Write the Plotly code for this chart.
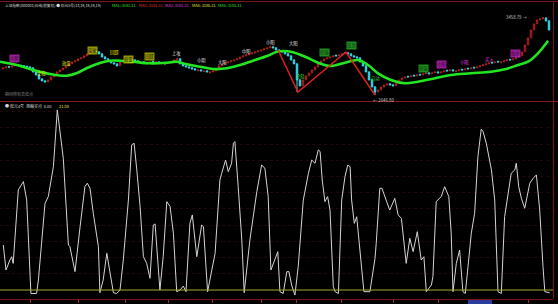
import plotly.graph_objects as go

W, H = 558, 304

# ---------------- price panel data (bar index, price) ----------------
bars = list(range(1, 184))
op = [2920, 2930, 2945, 2938, 2950, 2962, 2958, 2952, 2947, 2940,
      2930, 2888, 2858, 2815, 2795, 2784, 2805, 2836, 2857, 2888,
      2909, 2930, 2950, 2972, 2992, 3003, 3024, 3034, 3055, 3076,
      3097, 3110, 3097, 3076, 3044, 3024, 3003, 2982, 2972, 2951,
      2992, 3010, 3003, 3020, 3013, 3003, 2982, 2992, 2972, 2982,
      2998, 2982, 2992, 2972, 2982, 2972, 2982, 2992, 3013, 3024,
      2972, 2951, 2940, 2930, 2920, 2899, 2909, 2890, 2899, 2878,
      2888, 2899, 2920, 2951, 2972, 2982, 2992, 3003, 3013, 3024,
      3044, 3055, 3065, 3076, 3086, 3097, 3107, 3117, 3128, 3138,
      3149, 3138, 3117, 3107, 3097, 3076, 3055, 3013, 2972, 2805,
      2743, 2805, 2847, 2878, 2909, 2940, 2972, 3003, 3024, 3034,
      3044, 3062, 3055, 3065, 3076, 3086, 3076, 3055, 3044, 3034,
      2992, 2951, 2888, 2805, 2732, 2680, 2701, 2732, 2753, 2763,
      2753, 2743, 2774, 2805, 2826, 2842, 2836, 2853, 2847, 2863,
      2857, 2868, 2878, 2868, 2878, 2888, 2878, 2888, 2905, 2899,
      2909, 2890, 2899, 2915, 2909, 2926, 2920, 2936, 2930, 2940,
      2951, 2961, 2972, 2988, 2982, 2998, 2982, 2992, 3003, 3019,
      3013, 3024, 3044, 3055, 3097, 3169, 3242, 3325, 3388, 3430,
      3440, 3450, 3419]
cl = [2928, 2938, 2936, 2949, 2959, 2957, 2950, 2946, 2940, 2929,
      2886, 2855, 2813, 2793, 2782, 2803, 2834, 2855, 2886, 2907,
      2928, 2949, 2970, 2990, 3001, 3022, 3032, 3053, 3074, 3095,
      3105, 3095, 3074, 3042, 3022, 3001, 2980, 2970, 2949, 2990,
      3001, 3001, 3011, 3011, 3001, 2990, 2990, 2980, 2980, 2990,
      2990, 2990, 2980, 2980, 2970, 2980, 2990, 3011, 3022, 2970,
      2949, 2938, 2928, 2918, 2907, 2907, 2897, 2897, 2886, 2886,
      2897, 2918, 2949, 2970, 2980, 2990, 3001, 3011, 3022, 3042,
      3053, 3063, 3074, 3084, 3095, 3105, 3115, 3126, 3136, 3147,
      3136, 3115, 3105, 3095, 3074, 3053, 3011, 2970, 2803, 2741,
      2803, 2845, 2876, 2907, 2938, 2970, 3001, 3022, 3032, 3042,
      3053, 3053, 3063, 3074, 3084, 3074, 3053, 3042, 3032, 2990,
      2949, 2886, 2803, 2730, 2678, 2699, 2730, 2751, 2761, 2751,
      2741, 2772, 2803, 2824, 2834, 2834, 2845, 2845, 2855, 2855,
      2866, 2876, 2866, 2876, 2886, 2876, 2886, 2897, 2897, 2907,
      2897, 2897, 2907, 2907, 2918, 2918, 2928, 2928, 2938, 2949,
      2959, 2970, 2980, 2980, 2990, 2990, 2990, 3001, 3011, 3011,
      3022, 3042, 3053, 3095, 3167, 3240, 3323, 3386, 3428, 3438,
      3448, 3417, 3323]
wick_low = {99: 2678.1, 125: 2646.8}
wick_high = {181: 3458.79}

ma_bar = [0, 5.6, 11, 16.7, 22.3, 25.7, 29, 33.3, 36.7, 40, 44.3, 50, 55.7, 59,
          62.3, 66.7, 71, 75.7, 80, 84.3, 89, 92.7, 97, 101.7, 106, 110.3, 115,
          119.3, 122.7, 126, 130.3, 135, 139.3, 145, 150.3, 157, 163.7, 168.3,
          172.7, 176, 179.3, 182.7]
ma_val = [2993.5, 2959.2, 2907.1, 2865.5, 2847.8, 2875.9, 2927.9, 2980.0, 3003.9,
          3003.9, 2993.5, 2976.8, 2983.1, 2993.5, 2966.4, 2941.5, 2917.5, 2924.8,
          2959.2, 3003.9, 3052.9, 3100.0, 3097.6, 3045.6, 2983.1, 2948.7, 2983.1,
          3011.2, 2959.2, 2872.7, 2803.0, 2768.6, 2785.2, 2820.7, 2855.0, 2872.7,
          2889.4, 2914.4, 2959.2, 2993.5, 3080.9, 3212.1]

zz_bar = [92.7, 99.3, 115.3, 125.0]
zz_price = [3115.3, 2678.1, 3094.5, 2646.8]

lab_bar = [4.7, 13.7, 22.0, 30.7, 38.3, 42.7, 49.7, 58.7, 67.0, 74.0, 82.3, 90.3,
           97.7, 100.0, 108.0, 117.0, 125.3, 141.3, 147.0, 154.7, 163.3, 171.7]
lab_price = [3021.6, 2865.5, 2969.6, 3104.9, 3084.1, 3011.2, 3042.4, 3073.7, 3000.8,
             2980.0, 3094.5, 3188.2, 3177.8, 2834.2, 3084.1, 3157.0, 2813.4, 2917.5,
             2959.2, 2980.0, 3011.2, 3073.7]
lab_text = ["小阴", "企稳", "放量", "突破", "回踩", "缩量", "回踩", "上攻", "小阴", "大阳", "中阳",
            "小阳", "大阳", "企稳", "转强", "见顶", "启动", "转强", "小阳", "小阳", "买入", "加仓"]
lab_kind = ["M", "y", "y", "Y", "y", "Y", "Y", "w", "w", "w", "w", "w", "w", "g", "G", "G",
            "g", "G", "M", "m", "m", "M"]

# ---------------- oscillator panel data ----------------
osc_bar = [1.1, 2.0, 3.3, 3.9, 4.4, 6.1, 7.8, 8.9, 9.4, 10.3,
           12.2, 12.8, 15.0, 16.1, 17.8, 19.1, 21.1, 22.8, 23.3, 25.0,
           26.7, 28.3, 29.1, 30.0, 31.1, 32.8, 33.3, 34.4, 35.6, 36.7,
           37.8, 38.9, 40.0, 41.1, 42.8, 43.9, 44.7, 45.6, 46.7, 47.8,
           48.9, 50.0, 51.1, 51.7, 52.2, 53.3, 54.4, 55.6, 56.7, 57.8,
           58.9, 60.0, 61.1, 62.0, 63.3,
           64.1, 65.6, 67.2, 67.8, 69.2, 71.7, 73.3, 73.9, 75.2, 76.1,
           77.2, 77.8, 78.3, 79.4, 80.6, 81.4, 83.3, 85.6, 87.2, 88.3,
           89.4, 90.3, 91.1, 92.6, 93.3, 94.4, 95.6, 96.3, 97.2, 98.3,
           99.4, 101.1, 102.8, 103.9, 105.0, 106.1, 106.7, 107.4, 108.3, 109.2,
           110.0, 111.1, 111.7, 112.8, 113.9, 115.0, 115.9, 116.7, 117.2, 118.1,
           118.9, 119.4, 120.6, 121.3, 123.3, 125.0,
           125.4, 126.6, 127.3, 128.8, 129.9, 131.6, 132.7, 133.8, 135.4, 136.6,
           137.7, 139.1, 140.4, 141.3, 142.1, 143.8, 144.3, 145.4, 147.1, 148.2,
           149.6, 150.4, 151.0, 152.1, 153.2, 154.3, 155.1, 156.0, 157.1, 158.2,
           159.3, 160.4, 161.0, 162.1, 163.8, 164.9, 166.0, 167.1, 168.2, 170.4,
           171.6, 172.1, 172.9, 173.8, 174.9, 176.6, 177.7, 178.8, 179.9, 181.0,
           181.6, 183.2]
osc_val = [25.0, 11.1, 16.7, 18.5, 14.8, 55.6, 60.2, 50.0, 31.5, -1.9,
           -1.9, 5.6, 48.1, 51.9, 68.5, 100.0, 73.1, 25.0, 24.1, 10.2,
           35.2, 57.4, 59.3, 56.5, 42.6, 24.1, -1.5, 5.6, 20.4, 8.3,
           -1.5, -1.9, 0.0, 16.7, 50.0, 80.6, 81.5, 66.7, 46.3, 18.5,
           14.8, 6.5, 36.1, 36.7, 24.1, 0.0, 18.5, 49.1, 46.3, 31.5,
           -0.9, 0.0, 2.2, -0.9, 37.0,
           41.7, 18.5, 36.1, 35.2, -0.9, 20.4, 61.1, 64.8, 72.2, 65.7,
           70.4, 81.5, 82.4, 57.4, 27.8, -1.5, 27.8, 54.6, 69.4, 67.6,
           51.9, 11.1, 14.8, 21.3, -0.9, -1.9, 10.2, 10.2, 2.8, -2.8,
           13.0, 50.0, 64.8, 72.2, 70.4, 77.8, 76.9, 61.1, 49.1, 51.9,
           44.4, 1.9, -0.9, -1.9, 50.0, 63.0, 69.4, 68.5, 50.0, 37.0,
           40.7, 32.4, 9.3, -0.9, -0.9, 17.6,
           25.9, 56.5, 56.5, 50.0, 44.4, 50.9, 41.7, 39.8, 14.8, 28.7,
           21.3, 32.4, 16.7, 18.5, -0.9, 2.8, 7.4, 49.1, 51.9, 57.4,
           51.9, 31.5, -0.9, 14.8, 22.2, -0.9, -1.9, 13.0, 31.5, 42.6,
           74.1, 89.3, 88.0, 81.5, 66.7, 50.0, -0.9, -1.9, 40.7, 64.8,
           66.7, 70.4, 57.4, 50.9, 45.4, 59.3, 62.0, 63.9, 44.4, 13.0,
           -0.9, -1.5]
osc_ref = 0.0
axis_tick_bars = [10, 26.3, 41.7, 56, 70.7, 87, 98.7, 113.7, 131, 146.3, 176.3]
grid_vals = [9, 18, 27, 36, 45, 54, 63, 72, 81, 90, 99]

ma_values_text = ["3181.31", "3181.31", "3181.31", "3185.31", "3181.31"]
hi_label = "3458.79"
lo_label = "2646.80"

# ---------------- build ----------------
hi = [max(o, c) for o, c in zip(op, cl)]
lo = [min(o, c) for o, c in zip(op, cl)]
for b, v in wick_low.items():
    lo[b - 1] = v
for b, v in wick_high.items():
    hi[b - 1] = v

FONT = "Noto Sans CJK SC, Noto Sans, sans-serif"
XR = [0, 184.33]
XD = [0, 553 / W]


def py(ypx):
    return (H - ypx) / H


def px(xpx):
    return xpx / W


fig = go.Figure()
fig.add_trace(go.Candlestick(
    x=bars, open=op, high=hi, low=lo, close=cl, xaxis="x", yaxis="y",
    increasing=dict(line=dict(color="#b82424", width=1), fillcolor="rgba(0,0,0,0)"),
    decreasing=dict(line=dict(color="#30d8e8", width=1), fillcolor="#30d8e8"),
    whiskerwidth=0, showlegend=False, hoverinfo="skip"))
fig.add_trace(go.Scatter(x=ma_bar, y=ma_val, mode="lines", xaxis="x", yaxis="y",
                         line=dict(color="#22e622", width=2.6, shape="spline"),
                         showlegend=False, hoverinfo="skip"))
fig.add_trace(go.Scatter(x=zz_bar, y=zz_price, mode="lines", xaxis="x", yaxis="y",
                         line=dict(color="#e02020", width=1.5),
                         showlegend=False, hoverinfo="skip"))
fig.add_trace(go.Scatter(x=osc_bar, y=osc_val, mode="lines", xaxis="x2", yaxis="y2",
                         line=dict(color="#d4d4d4", width=1),
                         showlegend=False, hoverinfo="skip"))

kind_style = {
    "y": dict(color="#e8e800", bg=None),
    "Y": dict(color="#202000", bg="rgba(200,200,0,0.75)"),
    "w": dict(color="#e0e0e0", bg=None),
    "g": dict(color="#30d830", bg=None),
    "G": dict(color="#103010", bg="rgba(40,190,40,0.75)"),
    "m": dict(color="#e040e0", bg=None),
    "M": dict(color="#300030", bg="rgba(200,40,200,0.75)"),
}
ann = []
for b, p, t, k in zip(lab_bar, lab_price, lab_text, lab_kind):
    st = kind_style[k]
    a = dict(x=b, y=p, xref="x", yref="y", text=t, showarrow=False,
             font=dict(family=FONT, size=4.3, color=st["color"]), borderpad=0)
    if st["bg"]:
        a["bgcolor"] = st["bg"]
    ann.append(a)

ann.append(dict(x=176.3, y=wick_high[181], xref="x", yref="y", text=hi_label + " →",
                showarrow=False, xanchor="right", yanchor="middle",
                font=dict(family=FONT, size=4.3, color="#c8c8c8")))
ann.append(dict(x=123.7, y=wick_low[125], xref="x", yref="y", text="← " + lo_label,
                showarrow=False, xanchor="left", yanchor="top",
                font=dict(family=FONT, size=4.3, color="#c8c8c8")))

# header texts
ann.append(dict(x=px(3), y=py(5.5), xref="paper", yref="paper", xanchor="left", yanchor="middle",
                text="上证指数(000001)日线(前复权) ● 松元5号(13,19,19,19,19)", showarrow=False,
                font=dict(family=FONT, size=3.7, color="#d8d8d8")))
ma_cols = ["#30e030", "#e83030", "#e040e0", "#e8e830", "#30e030"]
ma_x = [110, 137, 163, 190, 216]
for i, (v, c, xx) in enumerate(zip(ma_values_text, ma_cols, ma_x)):
    ann.append(dict(x=px(xx), y=py(5.5), xref="paper", yref="paper", xanchor="left",
                    yanchor="middle", text=f"MA{i+1}: {v}", showarrow=False,
                    font=dict(family=FONT, size=3.9, color=c)))
ann.append(dict(x=px(3), y=py(94), xref="paper", yref="paper", xanchor="left", yanchor="middle",
                text="期间所有高低点", showarrow=False,
                font=dict(family=FONT, size=4.0, color="#808080")))
ann.append(dict(x=px(3), y=py(106.5), xref="paper", yref="paper", xanchor="left", yanchor="middle",
                text="● 松元4号  测缩买点  0.00", showarrow=False,
                font=dict(family=FONT, size=4.0, color="#d8d8d8")))
ann.append(dict(x=px(57), y=py(106.5), xref="paper", yref="paper", xanchor="left", yanchor="middle",
                text="21.00", showarrow=False,
                font=dict(family=FONT, size=4.0, color="#e8e830")))

RED = "#7a1414"
shapes = [
    dict(type="line", xref="paper", yref="paper", x0=0, x1=1, y0=py(1.5), y1=py(1.5),
         line=dict(color=RED, width=1)),
    dict(type="line", xref="paper", yref="paper", x0=0, x1=1, y0=py(101.5), y1=py(101.5),
         line=dict(color="#8a1818", width=1)),
    dict(type="line", xref="paper", yref="paper", x0=px(553.5), x1=px(553.5), y0=py(1.5), y1=py(299),
         line=dict(color=RED, width=1)),
    dict(type="line", xref="x2 domain", yref="y2", x0=0, x1=1, y0=osc_ref, y1=osc_ref,
         line=dict(color="#a8a830", width=1)),
    dict(type="rect", xref="paper", yref="paper", x0=px(468), x1=px(492), y0=0, y1=py(300),
         fillcolor="#2a3c9c", line=dict(width=0)),
]

fig.update_layout(
    width=W, height=H, margin=dict(l=0, r=0, t=0, b=0),
    paper_bgcolor="#000000", plot_bgcolor="#000000", showlegend=False,
    xaxis=dict(domain=XD, range=XR, visible=False, rangeslider=dict(visible=False), fixedrange=True),
    yaxis=dict(domain=[py(100), py(9)], range=[2594.8, 3542.1], visible=False, fixedrange=True),
    xaxis2=dict(domain=XD, range=XR, anchor="y2", showline=True, linecolor=RED, linewidth=1,
                ticks="outside", ticklen=3, tickcolor="#a03030", tickvals=axis_tick_bars,
                showticklabels=False, showgrid=False, zeroline=False, fixedrange=True),
    yaxis2=dict(domain=[py(298.5), py(102)], range=[-4.7, 104.4], anchor="x2",
                showgrid=True, gridcolor="#240707", griddash="dot", gridwidth=1,
                tickvals=grid_vals, showticklabels=False, zeroline=False, showline=False,
                fixedrange=True),
    annotations=ann, shapes=shapes,
)

fig.write_html("out.html")
